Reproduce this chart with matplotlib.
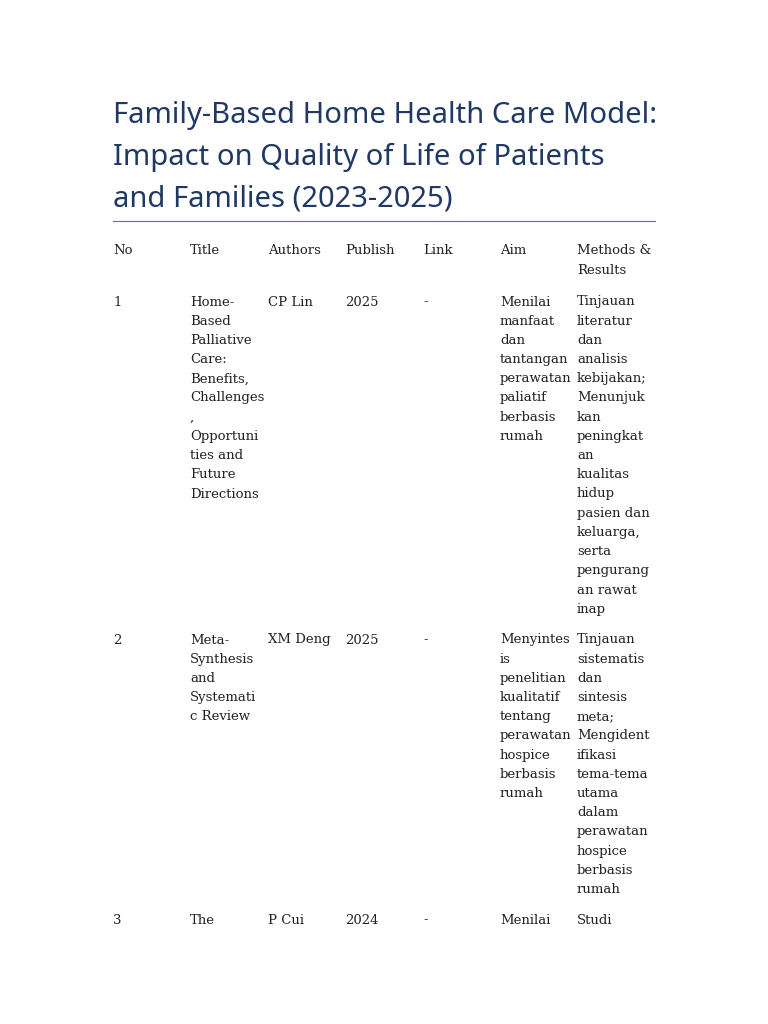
import matplotlib
matplotlib.use("Agg")
import matplotlib.pyplot as plt

title_lines = ["Family-Based Home Health Care Model:",
               "Impact on Quality of Life of Patients",
               "and Families (2023-2025)"]
headers = ["No", "Title", "Authors", "Publish", "Link", "Aim", "Methods &\nResults"]
nos = ["1", "2", "3"]
titles = ["Home-\nBased\nPalliative\nCare:\nBenefits,\nChallenges\n,\nOpportuni\nties and\nFuture\nDirections",
          "Meta-\nSynthesis\nand\nSystemati\nc Review",
          "The"]
authors = ["CP Lin", "XM Deng", "P Cui"]
years = ["2025", "2025", "2024"]
links = ["-", "-", "-"]
aims = ["Menilai\nmanfaat\ndan\ntantangan\nperawatan\npaliatif\nberbasis\nrumah",
        "Menyintes\nis\npenelitian\nkualitatif\ntentang\nperawatan\nhospice\nberbasis\nrumah",
        "Menilai"]
methods = ["Tinjauan\nliteratur\ndan\nanalisis\nkebijakan;\nMenunjuk\nkan\npeningkat\nan\nkualitas\nhidup\npasien dan\nkeluarga,\nserta\npengurang\nan rawat\ninap",
           "Tinjauan\nsistematis\ndan\nsintesis\nmeta;\nMengident\nifikasi\ntema-tema\nutama\ndalam\nperawatan\nhospice\nberbasis\nrumah",
           "Studi"]

W, H = 768, 1024
fig = plt.figure(figsize=(W/100, H/100), dpi=100)
fig.patch.set_facecolor("white")

def px(x, y):
    return x / W, 1 - y / H

for i, t in enumerate(title_lines):
    fig.text(*px(113, 116 + i * 41.5), t, fontsize=21, color="#1F3864",
             family="Noto Sans", va="center", ha="left")
fig.add_artist(plt.Line2D([113/W, 655/W], [1-221/H, 1-221/H], color="#4472C4", lw=0.8))

cols_x = [113, 190, 268, 345, 423, 500, 577]
LH = 19.2

def cell(x, y, txt):
    for k, line in enumerate(txt.split("\n")):
        fig.text(*px(x, y + k * LH), line, fontsize=9.5, family="DejaVu Serif",
                 color="#222222", va="center", ha="left")

for x, h in zip(cols_x, headers):
    cell(x, 251, h)

row_y = [302, 640, 920]
for r in range(3):
    vals = [nos[r], titles[r], authors[r], years[r], links[r], aims[r], methods[r]]
    for x, v in zip(cols_x, vals):
        cell(x, row_y[r], v)

fig.savefig("out.png", dpi=100)
